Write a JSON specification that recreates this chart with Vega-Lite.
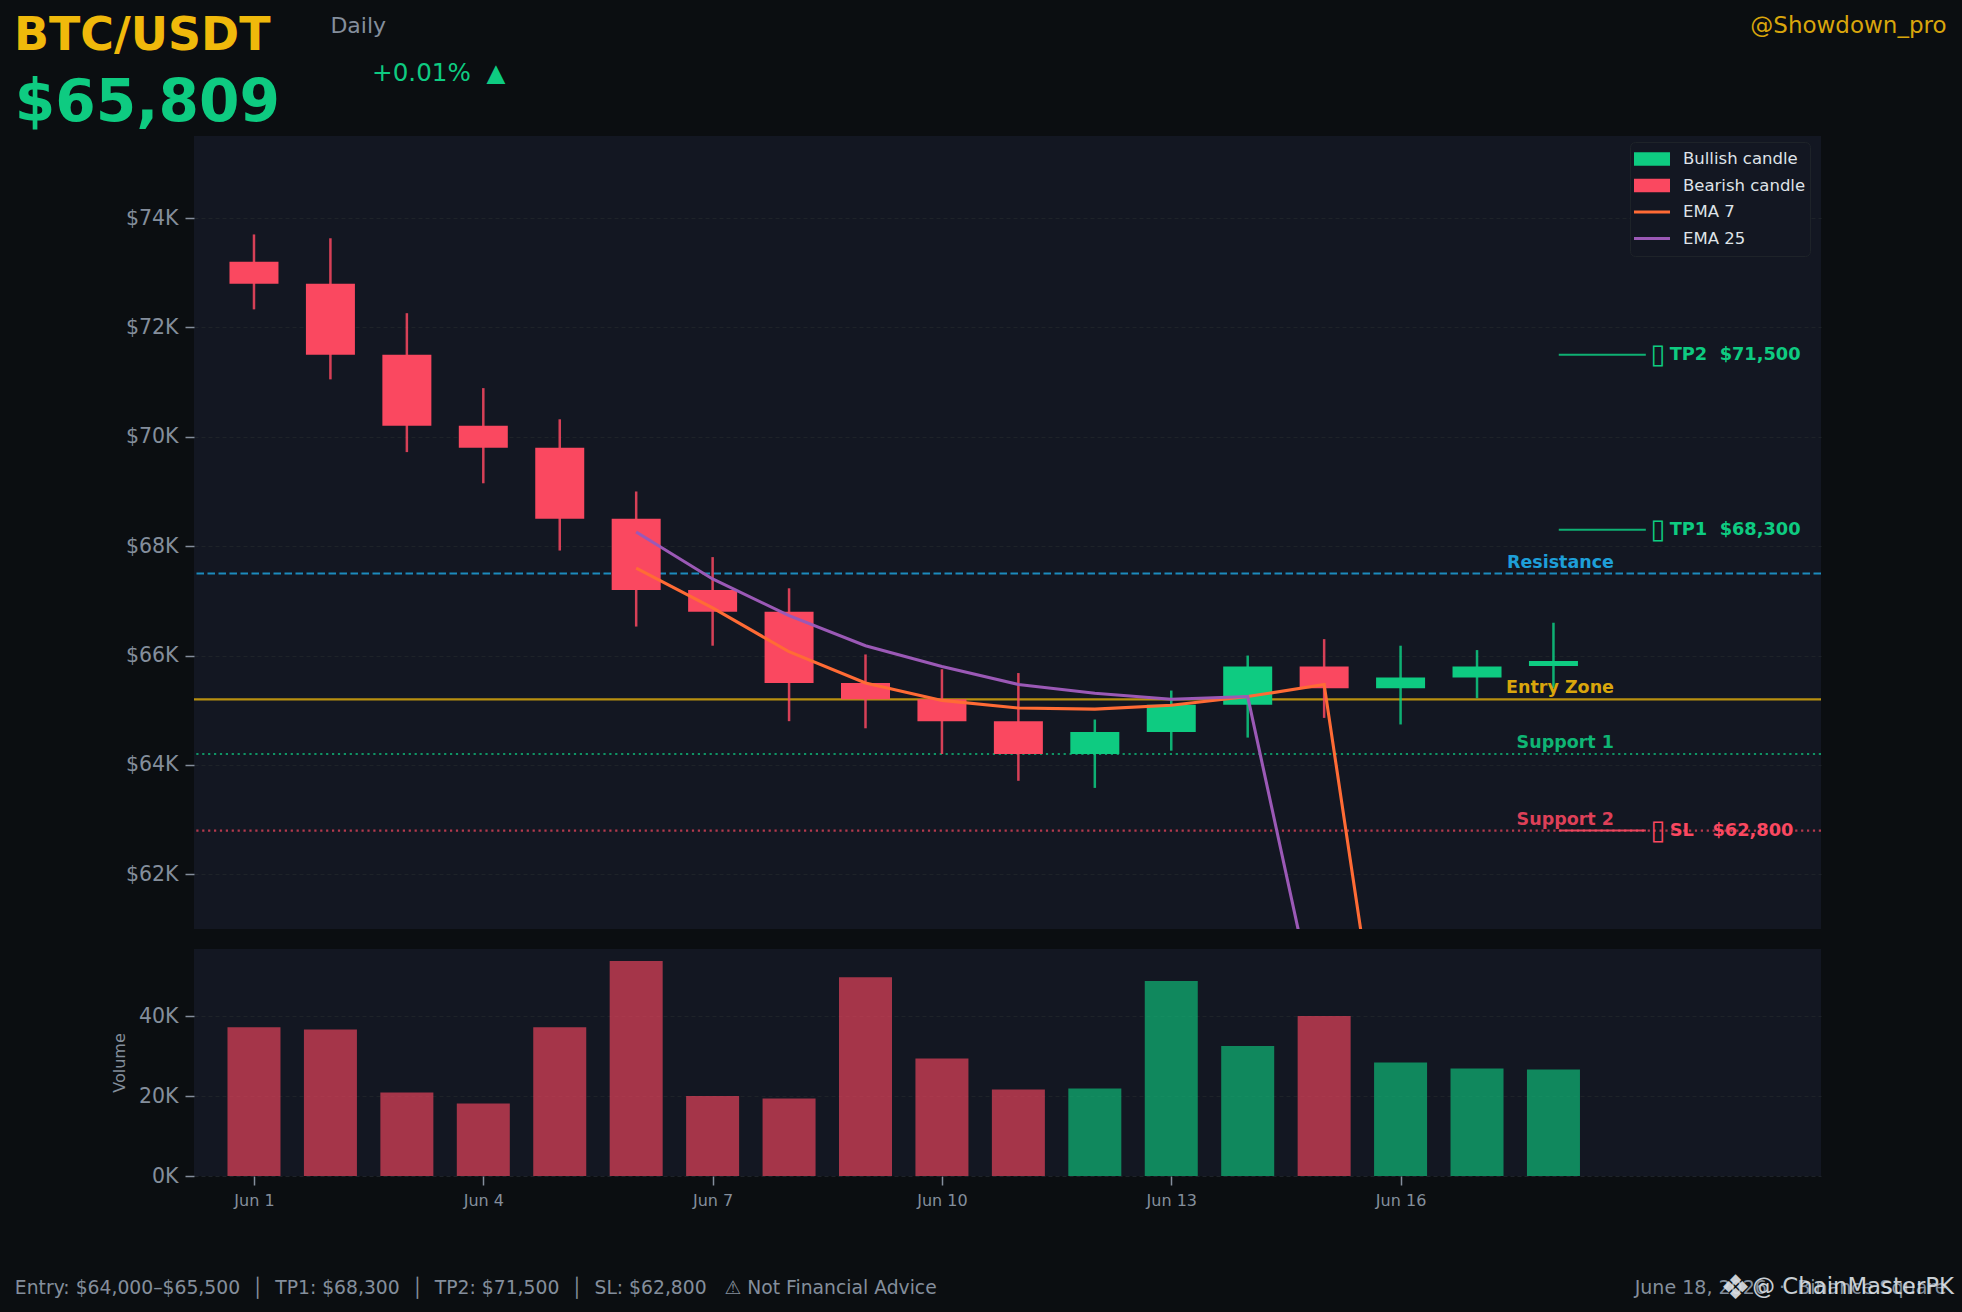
{
  "$schema": "https://vega.github.io/schema/vega-lite/v6.json",
  "background": "#0b0e11",
  "autosize": "none",
  "bounds": "flush",
  "padding": {"left": 194, "top": 136, "right": 1768, "bottom": 1176},
  "spacing": 20,
  "config": {
    "font": "DejaVu Sans",
    "axis": {"domain": false, "labelColor": "#848e9c", "tickColor": "#848e9c", "tickWidth": 1.5, "tickSize": 9, "labelPadding": 7, "gridColor": "#1e2329", "gridDash": [4, 3], "gridWidth": 1, "titleColor": "#848e9c", "titleFontWeight": "normal"},
    "text": {"font": "DejaVu Sans"}
  },
  "datasets": {
    "candles": [
      {"date": "2026-06-01", "series": "Bearish candle", "open": 73200, "close": 72800, "high": 73700, "low": 72330, "volume": 37200},
      {"date": "2026-06-02", "series": "Bearish candle", "open": 72800, "close": 71500, "high": 73630, "low": 71050, "volume": 36600},
      {"date": "2026-06-03", "series": "Bearish candle", "open": 71500, "close": 70200, "high": 72260, "low": 69720, "volume": 20900},
      {"date": "2026-06-04", "series": "Bearish candle", "open": 70200, "close": 69800, "high": 70890, "low": 69150, "volume": 18100},
      {"date": "2026-06-05", "series": "Bearish candle", "open": 69800, "close": 68500, "high": 70320, "low": 67920, "volume": 37200},
      {"date": "2026-06-06", "series": "Bearish candle", "open": 68500, "close": 67200, "high": 69000, "low": 66530, "volume": 53750},
      {"date": "2026-06-07", "series": "Bearish candle", "open": 67200, "close": 66800, "high": 67800, "low": 66180, "volume": 20000},
      {"date": "2026-06-08", "series": "Bearish candle", "open": 66800, "close": 65500, "high": 67230, "low": 64800, "volume": 19400},
      {"date": "2026-06-09", "series": "Bearish candle", "open": 65500, "close": 65200, "high": 66020, "low": 64670, "volume": 49700},
      {"date": "2026-06-10", "series": "Bearish candle", "open": 65200, "close": 64800, "high": 65750, "low": 64200, "volume": 29400},
      {"date": "2026-06-11", "series": "Bearish candle", "open": 64800, "close": 64200, "high": 65680, "low": 63710, "volume": 21600},
      {"date": "2026-06-12", "series": "Bullish candle", "open": 64200, "close": 64600, "high": 64830, "low": 63580, "volume": 21900},
      {"date": "2026-06-13", "series": "Bullish candle", "open": 64600, "close": 65100, "high": 65360, "low": 64260, "volume": 48750},
      {"date": "2026-06-14", "series": "Bullish candle", "open": 65100, "close": 65800, "high": 66000, "low": 64500, "volume": 32500},
      {"date": "2026-06-15", "series": "Bearish candle", "open": 65800, "close": 65400, "high": 66300, "low": 64860, "volume": 40000},
      {"date": "2026-06-16", "series": "Bullish candle", "open": 65400, "close": 65600, "high": 66180, "low": 64740, "volume": 28400},
      {"date": "2026-06-17", "series": "Bullish candle", "open": 65600, "close": 65800, "high": 66100, "low": 65220, "volume": 26900},
      {"date": "2026-06-18", "series": "Bullish candle", "open": 65809, "close": 65900, "high": 66600, "low": 65400, "volume": 26600}
    ],
    "ema": [
      {"date": "2026-06-06", "series": "EMA 7", "value": 67600},
      {"date": "2026-06-07", "series": "EMA 7", "value": 66870},
      {"date": "2026-06-08", "series": "EMA 7", "value": 66070},
      {"date": "2026-06-09", "series": "EMA 7", "value": 65500},
      {"date": "2026-06-10", "series": "EMA 7", "value": 65180},
      {"date": "2026-06-11", "series": "EMA 7", "value": 65040},
      {"date": "2026-06-12", "series": "EMA 7", "value": 65020},
      {"date": "2026-06-13", "series": "EMA 7", "value": 65090},
      {"date": "2026-06-14", "series": "EMA 7", "value": 65250},
      {"date": "2026-06-15", "series": "EMA 7", "value": 65470},
      {"date": "2026-06-16", "series": "EMA 7", "value": 56100},
      {"date": "2026-06-06", "series": "EMA 25", "value": 68260},
      {"date": "2026-06-07", "series": "EMA 25", "value": 67400},
      {"date": "2026-06-08", "series": "EMA 25", "value": 66730},
      {"date": "2026-06-09", "series": "EMA 25", "value": 66180},
      {"date": "2026-06-10", "series": "EMA 25", "value": 65800},
      {"date": "2026-06-11", "series": "EMA 25", "value": 65470},
      {"date": "2026-06-12", "series": "EMA 25", "value": 65310},
      {"date": "2026-06-13", "series": "EMA 25", "value": 65200},
      {"date": "2026-06-14", "series": "EMA 25", "value": 65250},
      {"date": "2026-06-15", "series": "EMA 25", "value": 58800}
    ],
    "keys": [
      {"series": "Bullish candle"},
      {"series": "Bearish candle"},
      {"series": "EMA 7"},
      {"series": "EMA 25"}
    ]
  },
  "vconcat": [
    {
      "width": 1627,
      "height": 793,
      "view": {"fill": "#131722", "stroke": null},
      "encoding": {
        "x": {"field": "date", "type": "temporal", "scale": {"type": "utc", "nice": false, "padding": 0, "domain": ["2026-05-31T05:10:00Z", "2026-06-21T12:00:00Z"]}, "axis": null},
        "y": {
          "field": "price",
          "type": "quantitative",
          "scale": {"domain": [61000, 75500], "nice": false, "zero": false},
          "axis": {"title": null, "grid": true, "values": [62000, 64000, 66000, 68000, 70000, 72000, 74000], "labelExpr": "'$' + datum.value / 1000 + 'K'", "labelFontSize": 20.5}
        },
        "color": {
          "field": "series",
          "type": "nominal",
          "legend": null,
          "scale": {"domain": ["Bullish candle", "Bearish candle", "EMA 7", "EMA 25"], "range": ["#0ecb81", "#fa4860", "#ff6b35", "#9b59b6"]}
        }
      },
      "layer": [
        {
          "data": {"values": [{"price": 67500}]},
          "mark": {"type": "rule", "stroke": "#1e9fd8", "strokeWidth": 2.2, "strokeDash": [7.5, 3.5], "opacity": 0.85},
          "encoding": {"x": null, "color": null}
        },
        {
          "data": {"values": [{"price": 65200}]},
          "mark": {"type": "rule", "stroke": "#f0b90b", "strokeWidth": 2.2, "opacity": 0.75},
          "encoding": {"x": null, "color": null}
        },
        {
          "data": {"values": [{"price": 64200}]},
          "mark": {"type": "rule", "stroke": "#0ecb81", "strokeWidth": 2.2, "strokeDash": [2.2, 3.7], "opacity": 0.7},
          "encoding": {"x": null, "color": null}
        },
        {
          "data": {"values": [{"price": 62800}]},
          "mark": {"type": "rule", "stroke": "#fa4860", "strokeWidth": 2.2, "strokeDash": [2.2, 3.7], "opacity": 0.7},
          "encoding": {"x": null, "color": null}
        },
        {
          "data": {"name": "candles"},
          "mark": {"type": "rule", "strokeWidth": 2.5, "opacity": 0.85},
          "encoding": {"y": {"field": "low", "type": "quantitative"}, "y2": {"field": "high"}}
        },
        {
          "data": {"name": "candles"},
          "mark": {"type": "bar", "size": 49},
          "encoding": {"y": {"field": "open", "type": "quantitative"}, "y2": {"field": "close"}}
        },
        {
          "data": {"name": "ema"},
          "mark": {"type": "line", "strokeWidth": 3.1, "clip": true},
          "encoding": {"y": {"field": "value", "type": "quantitative"}}
        },
        {
          "data": {"values": [
            {"from": "2026-06-18T01:40:00Z", "to": "2026-06-19T05:00:00Z", "price": 71500},
            {"from": "2026-06-18T01:40:00Z", "to": "2026-06-19T05:00:00Z", "price": 68300}
          ]},
          "mark": {"type": "rule", "stroke": "#0ecb81", "strokeWidth": 1.9, "opacity": 0.85},
          "encoding": {"x": {"field": "from", "type": "temporal"}, "x2": {"field": "to"}, "color": null}
        },
        {
          "data": {"values": [{"from": "2026-06-18T01:40:00Z", "to": "2026-06-19T05:00:00Z", "price": 62800}]},
          "mark": {"type": "rule", "stroke": "#fa4860", "strokeWidth": 1.9, "opacity": 0.9},
          "encoding": {"x": {"field": "from", "type": "temporal"}, "x2": {"field": "to"}, "color": null}
        },
        {
          "data": {"values": [
            {"date": "2026-06-19T06:30:00Z", "price": 71500, "label": "▯"},
            {"date": "2026-06-19T06:30:00Z", "price": 68300, "label": "▯"}
          ]},
          "mark": {"type": "text", "align": "left", "baseline": "middle", "fontSize": 27, "fill": "#0ecb81"},
          "encoding": {"text": {"field": "label"}, "color": null}
        },
        {
          "data": {"values": [{"date": "2026-06-19T06:30:00Z", "price": 62800, "label": "▯"}]},
          "mark": {"type": "text", "align": "left", "baseline": "middle", "fontSize": 27, "fill": "#fa4860"},
          "encoding": {"text": {"field": "label"}, "color": null}
        },
        {
          "data": {"values": [
            {"date": "2026-06-19T12:30:00Z", "price": 71500, "label": "TP2\u00a0\u00a0$71,500"},
            {"date": "2026-06-19T12:30:00Z", "price": 68300, "label": "TP1\u00a0\u00a0$68,300"}
          ]},
          "mark": {"type": "text", "align": "left", "baseline": "middle", "fontSize": 17.8, "fontWeight": "bold", "fill": "#0ecb81"},
          "encoding": {"text": {"field": "label"}, "color": null}
        },
        {
          "data": {"values": [{"date": "2026-06-19T12:30:00Z", "price": 62800, "label": "SL\u00a0\u00a0\u00a0$62,800"}]},
          "mark": {"type": "text", "align": "left", "baseline": "middle", "fontSize": 17.8, "fontWeight": "bold", "fill": "#fa4860"},
          "encoding": {"text": {"field": "label"}, "color": null}
        },
        {
          "data": {"values": [{"date": "2026-06-18T19:00:00Z", "price": 67500, "label": "Resistance"}]},
          "mark": {"type": "text", "align": "right", "dy": -6, "baseline": "alphabetic", "fontSize": 17.5, "fontWeight": "bold", "fill": "#1e9fd8"},
          "encoding": {"text": {"field": "label"}, "color": null}
        },
        {
          "data": {"values": [{"date": "2026-06-18T19:00:00Z", "price": 65200, "label": "Entry Zone"}]},
          "mark": {"type": "text", "align": "right", "dy": -6, "baseline": "alphabetic", "fontSize": 17.5, "fontWeight": "bold", "fill": "#d9a60c"},
          "encoding": {"text": {"field": "label"}, "color": null}
        },
        {
          "data": {"values": [{"date": "2026-06-18T19:00:00Z", "price": 64200, "label": "Support 1"}]},
          "mark": {"type": "text", "align": "right", "dy": -6, "baseline": "alphabetic", "fontSize": 17.5, "fontWeight": "bold", "fill": "#0fb574"},
          "encoding": {"text": {"field": "label"}, "color": null}
        },
        {
          "data": {"values": [{"date": "2026-06-18T19:00:00Z", "price": 62800, "label": "Support 2"}]},
          "mark": {"type": "text", "align": "right", "dy": -6, "baseline": "alphabetic", "fontSize": 17.5, "fontWeight": "bold", "fill": "#dd4058"},
          "encoding": {"text": {"field": "label"}, "color": null}
        },
        {
          "data": {"values": [{"date": "2026-05-28T20:40:00Z", "price": 77068, "label": "BTC/USDT"}]},
          "mark": {"type": "text", "align": "left", "baseline": "alphabetic", "fontSize": 45.9, "fontWeight": "bold", "fill": "#f0b90b"},
          "encoding": {"text": {"field": "label"}, "color": null}
        },
        {
          "data": {"values": [{"date": "2026-05-28T20:55:00Z", "price": 75770, "label": "$65,809"}]},
          "mark": {"type": "text", "align": "left", "baseline": "alphabetic", "fontSize": 58.2, "fontWeight": "bold", "fill": "#0ecb81"},
          "encoding": {"text": {"field": "label"}, "color": null}
        },
        {
          "data": {"values": [{"date": "2026-06-02T00:00:00Z", "price": 77379, "label": "Daily"}]},
          "mark": {"type": "text", "align": "left", "baseline": "alphabetic", "fontSize": 22, "fill": "#848e9c"},
          "encoding": {"text": {"field": "label"}, "color": null}
        },
        {
          "data": {"values": [{"date": "2026-06-02T13:05:00Z", "price": 76510, "label": "+0.01%\u00a0\u00a0▲"}]},
          "mark": {"type": "text", "align": "left", "baseline": "alphabetic", "fontSize": 24.6, "fill": "#0ecb81"},
          "encoding": {"text": {"field": "label"}, "color": null}
        },
        {
          "data": {"values": [{"date": "2026-06-23T03:25:00Z", "price": 77379, "label": "@Showdown_pro"}]},
          "mark": {"type": "text", "align": "right", "baseline": "alphabetic", "fontSize": 23, "fill": "#d9a60c"},
          "encoding": {"text": {"field": "label"}, "color": null}
        },
        {
          "data": {"values": [{"date": "2026-05-28T20:55:00Z", "price": 54330, "label": "Entry: $64,000–$65,500\u00a0\u00a0│\u00a0\u00a0TP1: $68,300\u00a0\u00a0│\u00a0\u00a0TP2: $71,500\u00a0\u00a0│\u00a0\u00a0SL: $62,800\u00a0\u00a0\u00a0⚠ Not Financial Advice"}]},
          "mark": {"type": "text", "align": "left", "baseline": "alphabetic", "fontSize": 18.75, "fill": "#848e9c"},
          "encoding": {"text": {"field": "label"}, "color": null}
        },
        {
          "data": {"values": [{"date": "2026-06-23T03:25:00Z", "price": 54330, "label": "June 18, 2026\u00a0\u00a0·\u00a0\u00a0Binance Square"}]},
          "mark": {"type": "text", "align": "right", "baseline": "alphabetic", "fontSize": 19.05, "fill": "#848e9c"},
          "encoding": {"text": {"field": "label"}, "color": null}
        },
        {
          "data": {"values": [{"date": "2026-06-20T09:10:00Z", "price": 54420, "label": "❖"}]},
          "mark": {"type": "text", "align": "center", "baseline": "middle", "fontSize": 34, "fill": "#dfe3e8", "opacity": 0.9},
          "encoding": {"text": {"field": "label"}, "color": null}
        },
        {
          "data": {"values": [{"date": "2026-06-23T05:45:00Z", "price": 54330, "label": "@ ChainMasterPK"}]},
          "mark": {"type": "text", "align": "right", "baseline": "alphabetic", "fontSize": 22.8, "fill": "#dfe3e8", "opacity": 0.9},
          "encoding": {"text": {"field": "label"}, "color": null}
        },
        {
          "data": {"name": "keys"},
          "mark": {"type": "point", "filled": true, "size": 0},
          "encoding": {
            "x": null,
            "y": null,
            "color": {
              "field": "series",
              "type": "nominal",
              "legend": {"title": null, "orient": "none", "legendX": 1436, "legendY": 6, "padding": 4, "fillColor": "#131722", "strokeColor": "#1e2329", "cornerRadius": 5, "labelColor": "#dfe3e8", "labelFontSize": 16.5, "labelOffset": 13, "symbolSize": 1296, "clipHeight": 26, "rowPadding": 0.5, "symbolStrokeWidth": 0, "symbolOpacity": 1, "symbolFillColor": {"expr": "datum.value === 'Bullish candle' ? '#0ecb81' : datum.value === 'Bearish candle' ? '#fa4860' : datum.value === 'EMA 7' ? '#ff6b35' : '#9b59b6'"}}
            },
            "shape": {
              "field": "series",
              "type": "nominal",
              "scale": {"domain": ["Bullish candle", "Bearish candle", "EMA 7", "EMA 25"], "range": ["M-1,-0.37H1V0.37H-1Z", "M-1,-0.37H1V0.37H-1Z", "M-1,-0.08H1V0.08H-1Z", "M-1,-0.08H1V0.08H-1Z"]},
              "legend": {"title": null, "orient": "none", "legendX": 1436, "legendY": 6, "padding": 4, "fillColor": "#131722", "strokeColor": "#1e2329", "cornerRadius": 5, "labelColor": "#dfe3e8", "labelFontSize": 16.5, "labelOffset": 13, "symbolSize": 1296, "clipHeight": 26, "rowPadding": 0.5, "symbolStrokeWidth": 0, "symbolOpacity": 1, "symbolFillColor": {"expr": "datum.value === 'Bullish candle' ? '#0ecb81' : datum.value === 'Bearish candle' ? '#fa4860' : datum.value === 'EMA 7' ? '#ff6b35' : '#9b59b6'"}}
            }
          }
        }
      ]
    },
    {
      "width": 1627,
      "height": 227,
      "view": {"fill": "#131722", "stroke": null},
      "data": {"name": "candles"},
      "mark": {"type": "bar", "size": 53, "opacity": 0.63},
      "encoding": {
        "x": {
          "field": "date",
          "type": "temporal",
          "scale": {"type": "utc", "nice": false, "padding": 0, "domain": ["2026-05-31T05:10:00Z", "2026-06-21T12:00:00Z"]},
          "axis": {
            "title": null,
            "grid": false,
            "format": "%b %-d",
            "labelFontSize": 16,
            "labelAngle": 0,
            "values": [
              {"year": 2026, "month": 6, "date": 1, "utc": true},
              {"year": 2026, "month": 6, "date": 4, "utc": true},
              {"year": 2026, "month": 6, "date": 7, "utc": true},
              {"year": 2026, "month": 6, "date": 10, "utc": true},
              {"year": 2026, "month": 6, "date": 13, "utc": true},
              {"year": 2026, "month": 6, "date": 16, "utc": true}
            ]
          }
        },
        "y": {
          "field": "volume",
          "type": "quantitative",
          "scale": {"domain": [0, 56750], "nice": false},
          "axis": {"title": "Volume", "titleFontSize": 16, "titlePadding": 11, "grid": true, "values": [0, 20000, 40000], "labelExpr": "datum.value / 1000 + 'K'", "labelFontSize": 20.5}
        },
        "color": {
          "field": "series",
          "type": "nominal",
          "legend": null,
          "scale": {"domain": ["Bullish candle", "Bearish candle"], "range": ["#0ecb81", "#fa4860"]}
        }
      }
    }
  ]
}
